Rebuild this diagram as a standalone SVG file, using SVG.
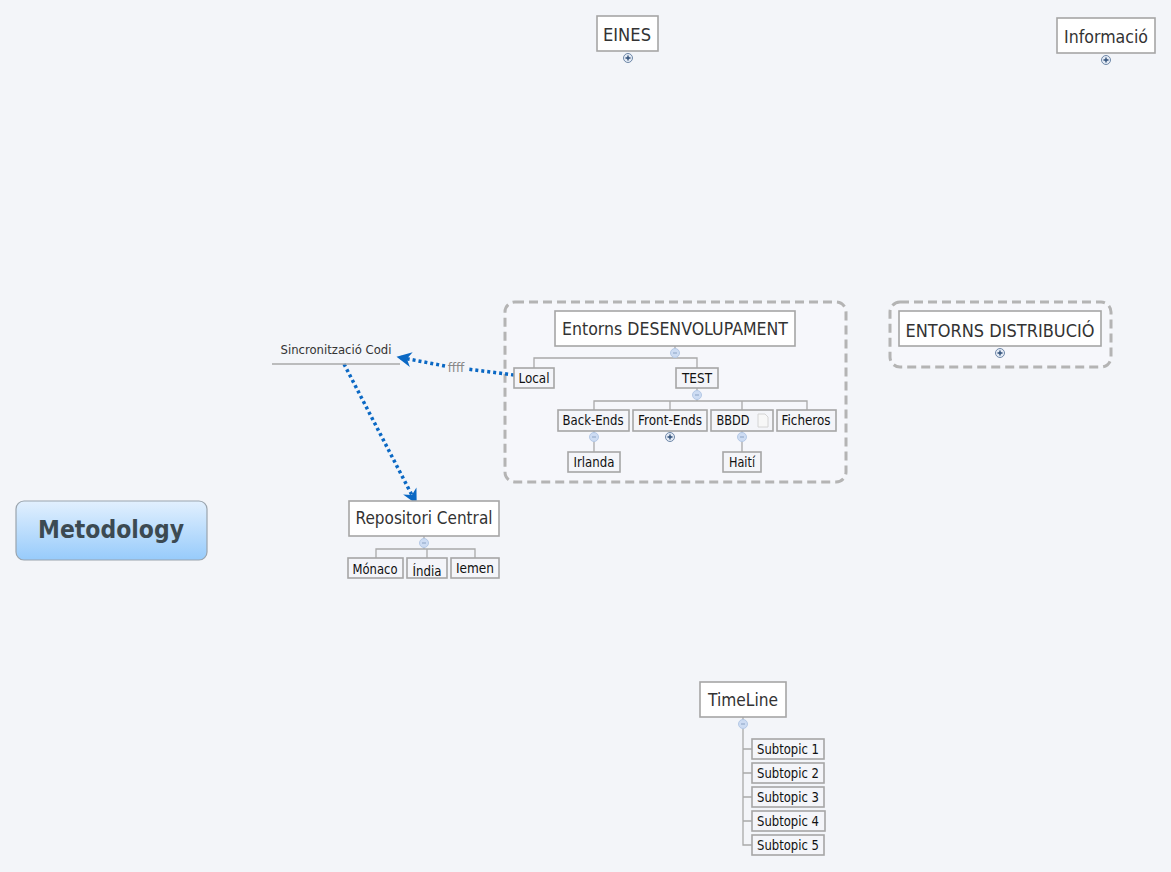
<svg xmlns="http://www.w3.org/2000/svg" width="1171" height="872" viewBox="0 0 1171 872">
<style>
text{font-family:"DejaVu Sans","Liberation Sans",sans-serif;text-anchor:middle;fill:#222}
.box{fill:#fff;stroke:#a6a6a6;stroke-width:1.6}
.sub{fill:#f4f5f9;stroke:#a6a6a6;stroke-width:1.6}
.t1{font-size:18px;fill:#333}
.t2{font-size:13.5px;fill:#111}
.conn{fill:none;stroke:#a9a9a9;stroke-width:1.3}
.bnd{fill:#f6f7fb;stroke:#b4b4b4;stroke-width:3;stroke-dasharray:9 5}
.rel{fill:none;stroke:#0a68c4;stroke-width:3.5;stroke-dasharray:3 3}
.minus{fill:#cddcf3;stroke:#b5c9e6;stroke-width:1}
.mm{stroke:#8ca3c4;stroke-width:1}
.plus{fill:#e4ebf5;stroke:#6f88a8;stroke-width:1}
.pp{stroke:#2f4f78;stroke-width:1.4}
</style>
<defs>
<linearGradient id="rootFill" x1="0" y1="0" x2="0" y2="1"><stop offset="0" stop-color="#e2f0fe"/><stop offset="1" stop-color="#97cbfb"/></linearGradient>
<marker id="arrow" viewBox="0 0 12 12" refX="10" refY="6" markerWidth="18" markerHeight="18" markerUnits="userSpaceOnUse" orient="auto"><path d="M1 1L11 6L1 11L4 6Z" fill="#0a68c4"/></marker>
<g id="m"><circle r="4.5" class="minus"/><path d="M-2 0H2" class="mm"/></g>
<g id="p"><circle r="4.5" class="plus"/><path d="M-2.5 0H2.5M0 -2.5V2.5" class="pp"/></g>
</defs>
<rect width="1171" height="872" fill="#f3f5f9"/>

<rect id="boundary-desenvolupament" class="bnd" x="505" y="302" width="341" height="180" rx="10"/>
<rect id="boundary-distribucio" class="bnd" x="890" y="302" width="221" height="65" rx="10"/>

<g id="connectors">
<path class="conn" d="M675 346V358M534 368V358H697V368" stroke="#c4c4c4"/>
<path class="conn" d="M697 388V401M594 410V401H807V410M670 401V410M742 401V410" />
<path class="conn" d="M594 431V452M742 431V452"/>
<path class="conn" d="M424 536V549M376 558V549H475V558M427 549V558"/>
<path class="conn" d="M743 717V845H752M743 749H752M743 773H752M743 797H752M743 821H752" stroke-width="1.5"/>
<path class="rel" d="M514 375L467 369" />
<path class="rel" d="M445 366L398 357" marker-end="url(#arrow)"/>
<path class="rel" d="M344 364L416 503" marker-end="url(#arrow)"/>
</g>
<text x="456" y="372" style="font-size:12px;fill:#888">ffff</text>

<g id="root"><rect x="16" y="501" width="191" height="59" rx="8" fill="url(#rootFill)" stroke="#9aa4ad" stroke-width="1.2"/><text x="111" y="538" textLength="146" lengthAdjust="spacingAndGlyphs" style="font-size:24px;font-weight:bold;fill:#3c4a52">Metodology</text></g>

<g id="eines"><rect class="box" x="597" y="16" width="61" height="35"/><text class="t1" x="627" y="41" textLength="48" lengthAdjust="spacingAndGlyphs">EINES</text><use href="#p" x="628" y="58"/></g>
<g id="informacio"><rect class="box" x="1057" y="18" width="98" height="35"/><text class="t1" x="1106" y="43" textLength="84" lengthAdjust="spacingAndGlyphs">Informació</text><use href="#p" x="1106" y="60"/></g>

<g id="entorns-desenvolupament"><rect class="box" x="555" y="311" width="240" height="35"/><text class="t1" x="675" y="335" textLength="226" lengthAdjust="spacingAndGlyphs">Entorns DESENVOLUPAMENT</text><use href="#m" x="675" y="353"/></g>
<g id="local"><rect class="sub" x="514" y="368" width="40" height="20"/><text class="t2" x="534" y="383" textLength="31" lengthAdjust="spacingAndGlyphs">Local</text></g>
<g id="test"><rect class="sub" x="676" y="368" width="42" height="20"/><text class="t2" x="697" y="383" textLength="30" lengthAdjust="spacingAndGlyphs">TEST</text><use href="#m" x="697" y="395"/></g>
<g id="back-ends"><rect class="sub" x="558" y="410" width="71" height="21"/><text class="t2" x="593" y="425" textLength="61" lengthAdjust="spacingAndGlyphs">Back-Ends</text><use href="#m" x="594" y="437"/></g>
<g id="front-ends"><rect class="sub" x="633" y="410" width="74" height="21"/><text class="t2" x="670" y="425" textLength="64" lengthAdjust="spacingAndGlyphs">Front-Ends</text><use href="#p" x="670" y="437"/></g>
<g id="bbdd"><rect class="sub" x="711" y="410" width="62" height="21"/><text class="t2" x="733" y="425" textLength="33" lengthAdjust="spacingAndGlyphs">BBDD</text><path d="M758 414H765L768 417V427H758Z" fill="#f7f7f7" stroke="#d4d4d4"/><use href="#m" x="742" y="437"/></g>
<g id="ficheros"><rect class="sub" x="777" y="410" width="59" height="21"/><text class="t2" x="806" y="425" textLength="49" lengthAdjust="spacingAndGlyphs">Ficheros</text></g>
<g id="irlanda"><rect class="sub" x="568" y="452" width="52" height="20"/><text class="t2" x="594" y="467" textLength="41" lengthAdjust="spacingAndGlyphs">Irlanda</text></g>
<g id="haiti"><rect class="sub" x="723" y="452" width="38" height="20"/><text class="t2" x="742" y="467" textLength="26" lengthAdjust="spacingAndGlyphs">Haití</text></g>

<g id="entorns-distribucio"><rect class="box" x="899" y="311" width="202" height="35"/><text class="t1" x="1000" y="337" textLength="189" lengthAdjust="spacingAndGlyphs">ENTORNS DISTRIBUCIÓ</text><use href="#p" x="1000" y="353"/></g>

<g id="sincronitzacio"><text x="336" y="354" textLength="111" lengthAdjust="spacingAndGlyphs" style="font-size:13px;fill:#333">Sincronització Codi</text><path d="M272 364H400" stroke="#a9a9a9" stroke-width="1.5"/></g>

<g id="repositori"><rect class="box" x="349" y="501" width="150" height="35"/><text class="t1" x="424" y="524" textLength="137" lengthAdjust="spacingAndGlyphs">Repositori Central</text><use href="#m" x="424" y="543"/></g>
<g id="monaco"><rect class="sub" x="348" y="558" width="55" height="20"/><text class="t2" x="375" y="574" textLength="45" lengthAdjust="spacingAndGlyphs">Mónaco</text></g>
<g id="india"><rect class="sub" x="407" y="558" width="40" height="20"/><text class="t2" x="427" y="576" textLength="29" lengthAdjust="spacingAndGlyphs">Índia</text></g>
<g id="iemen"><rect class="sub" x="451" y="558" width="48" height="20"/><text class="t2" x="475" y="573" textLength="38" lengthAdjust="spacingAndGlyphs">Iemen</text></g>

<g id="timeline"><rect class="box" x="700" y="682" width="86" height="35"/><text class="t1" x="743" y="706" textLength="70" lengthAdjust="spacingAndGlyphs">TimeLine</text><use href="#m" x="743" y="724"/></g>
<g id="subtopic-1"><rect class="sub" x="752" y="739" width="72" height="20"/><text class="t2" x="788" y="754" textLength="62" lengthAdjust="spacingAndGlyphs">Subtopic 1</text></g>
<g id="subtopic-2"><rect class="sub" x="752" y="763" width="72" height="20"/><text class="t2" x="788" y="778" textLength="62" lengthAdjust="spacingAndGlyphs">Subtopic 2</text></g>
<g id="subtopic-3"><rect class="sub" x="752" y="787" width="72" height="20"/><text class="t2" x="788" y="802" textLength="62" lengthAdjust="spacingAndGlyphs">Subtopic 3</text></g>
<g id="subtopic-4"><rect class="sub" x="752" y="811" width="73" height="20"/><text class="t2" x="788" y="826" textLength="62" lengthAdjust="spacingAndGlyphs">Subtopic 4</text></g>
<g id="subtopic-5"><rect class="sub" x="752" y="835" width="72" height="20"/><text class="t2" x="788" y="850" textLength="62" lengthAdjust="spacingAndGlyphs">Subtopic 5</text></g>
</svg>
